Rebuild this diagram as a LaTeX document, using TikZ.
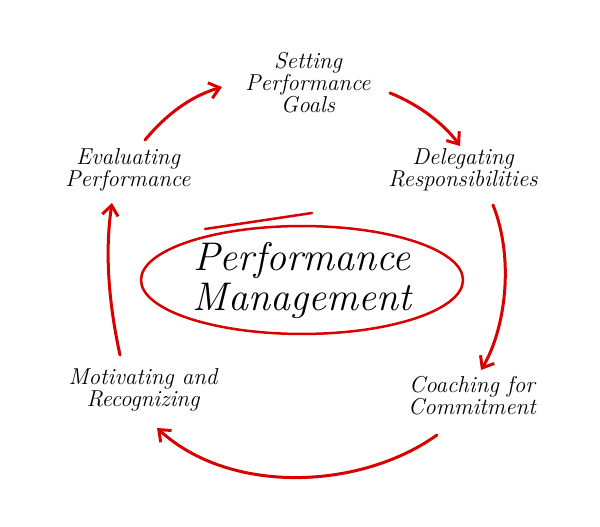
\documentclass[tikz,border=0pt]{standalone}
\usetikzlibrary{arrows.meta,shapes.geometric}
\begin{document}
\begin{tikzpicture}[x=1pt,y=-1pt,
  lbl/.style={align=center,font=\itshape\fontsize{23}{22}\selectfont,inner sep=1pt},
  arr/.style={draw=red!85!black,line width=3pt,line cap=round,-{Straight Barb[length=10pt,width=16pt]}}]
\useasboundingbox[fill=white] (0,0) rectangle (600,527);
\node[lbl] (g) at (308,83) {Setting\\Performance\\Goals};
\node[lbl] (d) at (463,170) {Delegating\\Responsibilities};
\node[lbl] (c) at (472,396) {Coaching for\\Commitment};
\node[lbl] (m) at (143,390) {Motivating and\\Recognizing};
\node[lbl] (e) at (128,170) {Evaluating\\Performance};
\node[draw=red!85!black,line width=2.5pt,ellipse,minimum width=322pt,minimum height=96pt,align=center,inner sep=0pt,
  font=\itshape\fontsize{40}{40}\selectfont] (pm) at (302,280) {Performance\\Management};
\draw[red!85!black,line width=2.5pt,line cap=round] (205,229) -- (312,213);
\coordinate (a1s) at (145,140); \coordinate (a1e) at (222,87);
\coordinate (a2s) at (390,93); \coordinate (a2e) at (460,146);
\coordinate (a3s) at (493,205); \coordinate (a3e) at (481,370);
\coordinate (a4s) at (437,435); \coordinate (a4e) at (157,428);
\coordinate (a5s) at (120,355); \coordinate (a5e) at (112,203);
\draw[arr] (a1s) .. controls (170,110) and (195,95) .. (a1e);
\draw[arr] (a2s) .. controls (420,105) and (445,125) .. (a2e);
\draw[arr] (a3s) .. controls (515,260) and (505,330) .. (a3e);
\draw[arr] (a4s) .. controls (360,490) and (230,495) .. (a4e);
\draw[arr] (a5s) .. controls (108,300) and (105,250) .. (a5e);
\end{tikzpicture}
\end{document}
